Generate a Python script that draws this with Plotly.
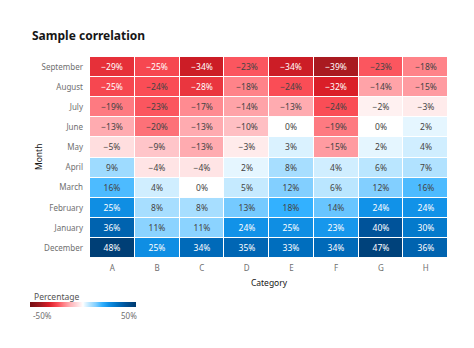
import plotly.graph_objects as go

# Months listed bottom-to-top on the y axis
months = ["December", "January", "February", "March", "April",
          "May", "June", "July", "August", "September"]
categories = ["A", "B", "C", "D", "E", "F", "G", "H"]

# Correlation (%) per month, one value per category A..H
dec = [48, 25, 34, 35, 33, 34, 47, 36]
jan = [36, 11, 11, 24, 25, 23, 40, 30]
feb = [25, 8, 8, 13, 18, 14, 24, 24]
mar = [16, 4, 0, 5, 12, 6, 12, 16]
apr = [9, -4, -4, 2, 8, 4, 6, 7]
may = [-5, -9, -13, -3, 3, -15, 2, 4]
jun = [-13, -20, -13, -10, 0, -19, 0, 2]
jul = [-19, -23, -17, -14, -13, -24, -2, -3]
aug = [-25, -24, -28, -18, -24, -32, -14, -15]
sep = [-29, -25, -34, -23, -34, -39, -23, -18]

z = [dec, jan, feb, mar, apr, may, jun, jul, aug, sep]

# Diverging red -> white -> cyan/blue scale over -50..50
stops = [
    (-50, "#750e13"), (-40, "#a2191f"), (-32, "#da1e28"), (-24, "#fa4d56"),
    (-18, "#ff8389"), (-12, "#ffb3b8"), (-6, "#ffd7d9"), (-2, "#fff1f1"),
    (0, "#ffffff"), (2, "#e5f6ff"), (6, "#bae6ff"), (12, "#82cfff"),
    (18, "#33b1ff"), (24, "#1192e8"), (32, "#0072c3"), (40, "#00539a"),
    (50, "#003a6d"),
]
colorscale = [[(v + 50) / 100, c] for v, c in stops]

W, H = 474, 348
ML, MR, MT, MB = 90, 26, 57, 90
PW, PH = W - ML - MR, H - MT - MB
FONT = "Noto Sans"


def px_x(x):
    return (x - ML) / PW


def px_y(y):
    return 1 - (y - MT) / PH


fig = go.Figure(go.Heatmap(
    z=z, x=categories, y=months,
    zmin=-50, zmax=50, colorscale=colorscale,
    xgap=1, ygap=1,
    texttemplate="%{z}%",
    textfont=dict(size=8.5, family=FONT),
    hovertemplate="%{y}, %{x}: %{z}%<extra></extra>",
    colorbar=dict(
        orientation="h",
        xref="container", yref="container",
        x=40 / W, xanchor="left",
        y=1 - 302 / H, yanchor="top",
        lenmode="pixels", len=106,
        thickness=5, outlinewidth=0, xpad=0, ypad=0,
        showticklabels=False, ticks="",
    ),
))

tick_font = dict(size=8, color="#6f6f6f")
fig.update_layout(
    width=W, height=H,
    margin=dict(l=ML, r=MR, t=MT, b=MB),
    paper_bgcolor="white", plot_bgcolor="white",
    font=dict(family=FONT, color="#161616"),
    title=dict(text="<b>Sample correlation</b>",
               xref="container", yref="container",
               x=32 / W, xanchor="left", y=1 - 36 / H, yanchor="middle",
               font=dict(size=12, color="#161616", family=FONT)),
    xaxis=dict(showgrid=False, zeroline=False, ticks="",
               ticklabelstandoff=4, tickfont=tick_font,
               title=dict(text="Category", standoff=8,
                          font=dict(size=8.5, color="#161616"))),
    yaxis=dict(showgrid=False, zeroline=False, ticks="",
               ticklabelstandoff=6, tickfont=tick_font),
    annotations=[
        dict(text="Month", xref="paper", yref="paper",
             x=px_x(38), y=px_y(157), textangle=-90,
             xanchor="center", yanchor="middle", showarrow=False,
             font=dict(size=8.5, color="#161616")),
        dict(text="Percentage", xref="paper", yref="paper",
             x=px_x(32), y=px_y(296),
             xanchor="left", yanchor="middle", showarrow=False,
             font=dict(size=8.5, color="#525252")),
        dict(text="-50%", xref="paper", yref="paper",
             x=px_x(31), y=px_y(315),
             xanchor="left", yanchor="middle", showarrow=False,
             font=tick_font),
        dict(text="50%", xref="paper", yref="paper",
             x=px_x(139), y=px_y(315),
             xanchor="right", yanchor="middle", showarrow=False,
             font=tick_font),
    ],
)

fig.write_html("out.html")
